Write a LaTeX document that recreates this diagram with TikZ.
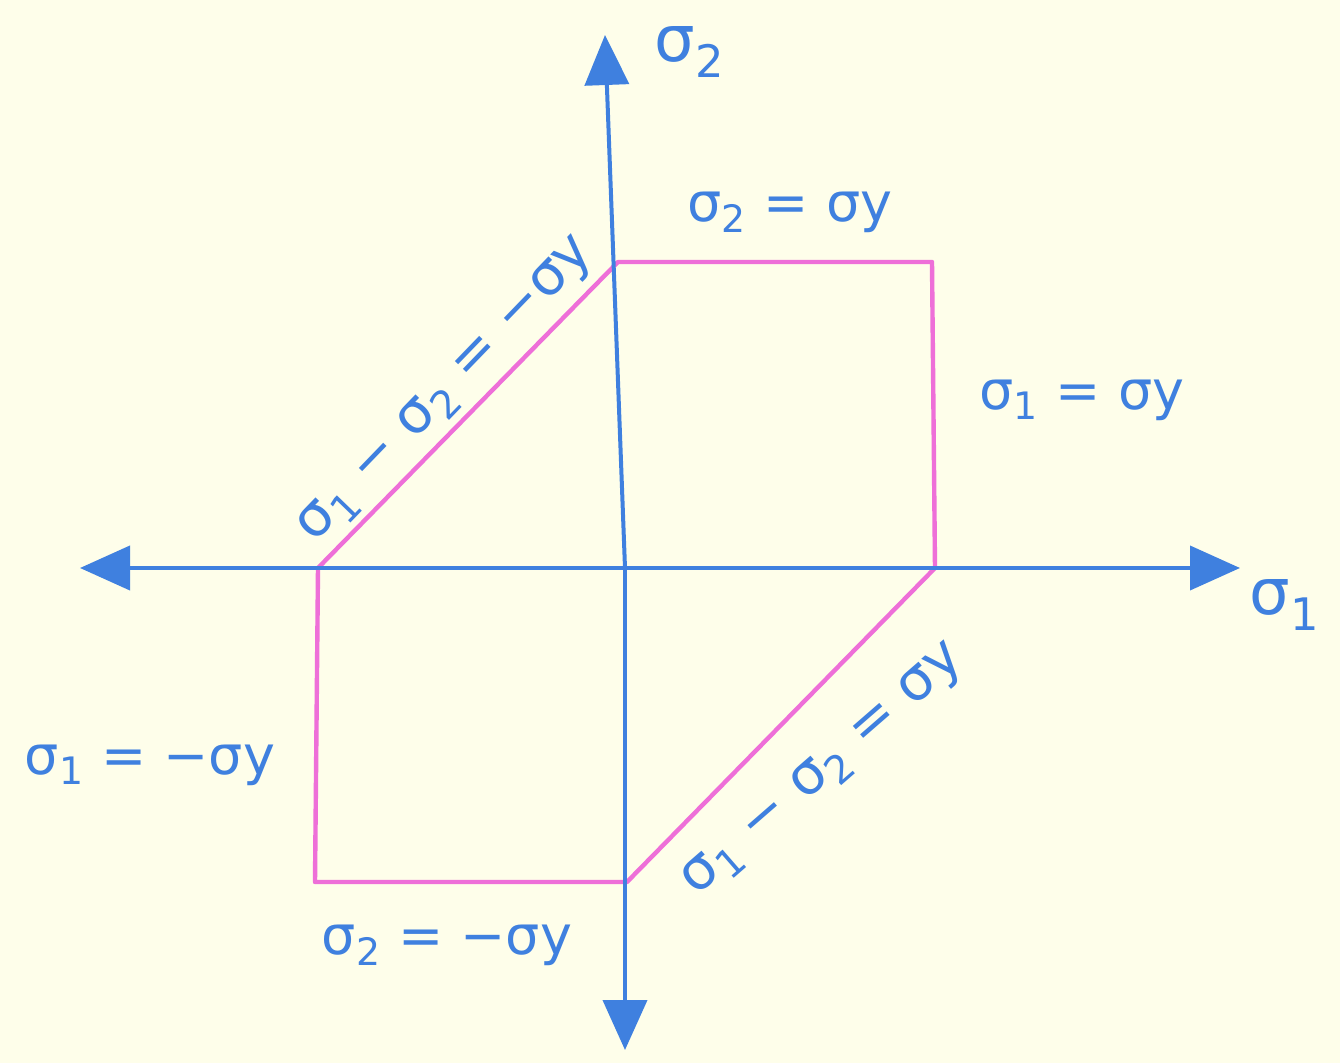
\documentclass[tikz,border=0pt]{standalone}
\usepackage{fontspec}
\setmainfont{DejaVu Sans}
\usetikzlibrary{arrows.meta}
\definecolor{bgc}{HTML}{FEFEEA}
\definecolor{penblue}{HTML}{3F80DF}
\definecolor{penpink}{HTML}{EE6FD8}
\newcommand{\sgsub}[1]{σ\textsubscript{#1}}
\tikzset{
  axis/.style={draw=penblue, line width=2pt, -{Triangle[length=25pt,width=22pt]}},
  yieldline/.style={draw=penpink, line width=2.2pt, line join=round},
  lbl/.style={text=penblue, font=\fontsize{27}{32}\selectfont, inner sep=0pt},
  dlbl/.style={text=penblue, font=\fontsize{28}{32}\selectfont, inner sep=0pt},
  axlbl/.style={text=penblue, font=\fontsize{32}{38}\selectfont, inner sep=0pt}
}
\begin{document}
\begin{tikzpicture}[x=0.5pt,y=-0.5pt]
\fill[bgc] (0,0) rectangle (1340,1063);
\useasboundingbox (0,0) rectangle (1340,1063);
% origin and axis ends
\coordinate (O) at (625,568);
\coordinate (xl) at (80,568);
\coordinate (xr) at (1240,568);
\coordinate (yt) at (605,35);
\coordinate (yb) at (625,1050);
% hexagon corners
\coordinate (A) at (618,262);
\coordinate (B) at (932,262);
\coordinate (C) at (935,568);
\coordinate (D) at (627,882);
\coordinate (E) at (315,882);
\coordinate (F) at (318,568);
% yield surface
\draw[yieldline] (A) -- (B) -- (C) -- (D) -- (E) -- (F) -- cycle;
% axes
\draw[axis] (O) -- (xr);
\draw[axis] (O) -- (xl);
\draw[axis] (O) -- (yt);
\draw[axis] (O) -- (yb);
% labels
\node[axlbl] (s2) at (690,52) {\sgsub{2}};
\node[axlbl] (s1) at (1285,605) {\sgsub{1}};
\node[lbl] (top) at (790,212) {\sgsub{2} = σy};
\node[lbl] (right) at (1082,400) {\sgsub{1} = σy};
\node[lbl] (left) at (150,765) {\sgsub{1} = −σy};
\node[lbl] (bottom) at (447,945) {\sgsub{2} = −σy};
\node[dlbl, rotate=46] (diagul) at (448,392) {\sgsub{1} − \sgsub{2} = −σy};
\node[dlbl, rotate=41] (diaglr) at (825,772) {\sgsub{1} − \sgsub{2} = σy};
\end{tikzpicture}
\end{document}
